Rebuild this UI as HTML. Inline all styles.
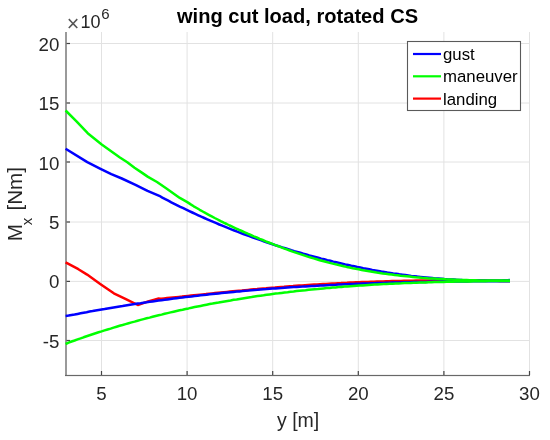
<!DOCTYPE html>
<html><head><meta charset="utf-8"><style>
html,body{margin:0;padding:0;background:#fff;}
svg{display:block;}
text{font-family:"Liberation Sans",Arial,sans-serif;fill:#262626;}
.tk{font-size:18.7px;}
.lb{font-size:20.5px;}
.tt{font-size:20.1px;font-weight:bold;fill:#000;}
.lg{font-size:16.8px;fill:#000;}
</style></head><body>
<svg width="550" height="440" viewBox="0 0 550 440">
<rect x="0" y="0" width="550" height="440" fill="#fff"/>
<line x1="101.5" y1="32" x2="101.5" y2="375" stroke="#e2e2e2" stroke-width="1"/>
<line x1="187.1" y1="32" x2="187.1" y2="375" stroke="#e2e2e2" stroke-width="1"/>
<line x1="272.7" y1="32" x2="272.7" y2="375" stroke="#e2e2e2" stroke-width="1"/>
<line x1="358.3" y1="32" x2="358.3" y2="375" stroke="#e2e2e2" stroke-width="1"/>
<line x1="443.9" y1="32" x2="443.9" y2="375" stroke="#e2e2e2" stroke-width="1"/>
<line x1="529.5" y1="32" x2="529.5" y2="375" stroke="#e2e2e2" stroke-width="1"/>
<line x1="66" y1="43.5" x2="529.5" y2="43.5" stroke="#e2e2e2" stroke-width="1"/>
<line x1="66" y1="103.0" x2="529.5" y2="103.0" stroke="#e2e2e2" stroke-width="1"/>
<line x1="66" y1="162.0" x2="529.5" y2="162.0" stroke="#e2e2e2" stroke-width="1"/>
<line x1="66" y1="222.0" x2="529.5" y2="222.0" stroke="#e2e2e2" stroke-width="1"/>
<line x1="66" y1="281.4" x2="529.5" y2="281.4" stroke="#e2e2e2" stroke-width="1"/>
<line x1="66" y1="340.5" x2="529.5" y2="340.5" stroke="#e2e2e2" stroke-width="1"/>
<rect x="65" y="32" width="2" height="344" fill="#9a9a9a"/>
<rect x="65" y="375" width="465" height="1" fill="#686868"/>
<rect x="65" y="374.6" width="465" height="1.8" fill="#686868" opacity="0.25"/>
<line x1="66.5" y1="43.5" x2="70" y2="43.5" stroke="#444" stroke-width="1.2"/>
<line x1="66.5" y1="103.0" x2="70" y2="103.0" stroke="#444" stroke-width="1.2"/>
<line x1="66.5" y1="162.0" x2="70" y2="162.0" stroke="#444" stroke-width="1.2"/>
<line x1="66.5" y1="222.0" x2="70" y2="222.0" stroke="#444" stroke-width="1.2"/>
<line x1="66.5" y1="281.4" x2="70" y2="281.4" stroke="#444" stroke-width="1.2"/>
<line x1="66.5" y1="340.5" x2="70" y2="340.5" stroke="#444" stroke-width="1.2"/>
<line x1="101.5" y1="371" x2="101.5" y2="375" stroke="#444" stroke-width="1.2"/>
<line x1="187.1" y1="371" x2="187.1" y2="375" stroke="#444" stroke-width="1.2"/>
<line x1="272.7" y1="371" x2="272.7" y2="375" stroke="#444" stroke-width="1.2"/>
<line x1="358.3" y1="371" x2="358.3" y2="375" stroke="#444" stroke-width="1.2"/>
<line x1="443.9" y1="371" x2="443.9" y2="375" stroke="#444" stroke-width="1.2"/>
<line x1="529.5" y1="371" x2="529.5" y2="375" stroke="#444" stroke-width="1.2"/>
<polyline points="65.6,262.3 78.4,269.2 87.1,274.6 100.2,283.9 113.8,293.3 126.4,299.3 137.8,305.0 148.2,301.4 158.0,298.6 161.0,298.8 164.0,298.4 167.0,298.1 170.0,297.8 173.0,297.5 176.0,297.2 179.0,296.9 182.0,296.6 185.0,296.2 188.0,295.9 191.0,295.6 194.0,295.3 197.0,295.0 200.0,294.7 203.0,294.4 206.0,294.1 209.0,293.7 212.0,293.4 215.0,293.1 218.0,292.8 221.0,292.5 224.0,292.2 227.0,291.9 230.0,291.6 233.0,291.3 236.0,291.0 239.0,290.7 242.0,290.5 245.0,290.2 248.0,289.9 251.0,289.6 254.0,289.3 257.0,289.1 260.0,288.8 263.0,288.5 266.0,288.3 269.0,288.0 272.0,287.7 275.0,287.5 278.0,287.2 281.0,287.0 284.0,286.8 287.0,286.5 290.0,286.3 293.0,286.1 296.0,285.8 299.0,285.6 302.0,285.4 305.0,285.2 308.0,285.0 311.0,284.8 314.0,284.6 317.0,284.4 320.0,284.2 323.0,284.0 326.0,283.9 329.0,283.7 332.0,283.5 335.0,283.4 338.0,283.2 341.0,283.1 344.0,282.9 347.0,282.8 350.0,282.6 353.0,282.5 356.0,282.3 359.0,282.2 362.0,282.1 365.0,282.0 368.0,281.9 371.0,281.8 374.0,281.7 377.0,281.5 380.0,281.5 383.0,281.4 386.0,281.3 389.0,281.2 392.0,281.1 395.0,281.0 398.0,281.0 401.0,280.9 404.0,280.8 407.0,280.8 410.0,280.7 413.0,280.7 416.0,280.6 419.0,280.6 422.0,280.5 425.0,280.5 428.0,280.5 431.0,280.4 434.0,280.4 437.0,280.4 440.0,280.4 443.0,280.4 446.0,280.4 449.0,280.4 452.0,280.4 455.0,280.4 458.0,280.4 461.0,280.4 464.0,280.4 467.0,280.4 470.0,280.4 473.0,280.5 476.0,280.5 479.0,280.5 482.0,280.6 485.0,280.6 488.0,280.7 491.0,280.7 494.0,280.8 497.0,280.8 500.0,280.9 503.0,280.9 506.0,281.0 509.0,281.1 510.0,281.1" fill="none" stroke="#ff0000" stroke-width="2.5" stroke-linejoin="round"/>
<polyline points="65.6,148.7 87.3,162.1 100.0,168.6 111.3,174.2 121.8,178.5 135.5,184.8 147.5,190.8 159.3,195.8 162.3,197.6 165.3,199.2 168.3,200.7 171.3,202.3 174.3,203.8 177.3,205.3 180.3,206.8 183.3,208.2 186.3,209.7 189.3,211.1 192.3,212.5 195.3,213.9 198.3,215.3 201.3,216.7 204.3,218.0 207.3,219.3 210.3,220.6 213.3,221.9 216.3,223.2 219.3,224.5 222.3,225.7 225.3,226.9 228.3,228.1 231.3,229.3 234.3,230.5 237.3,231.7 240.3,232.8 243.3,234.0 246.3,235.1 249.3,236.2 252.3,237.3 255.3,238.3 258.3,239.4 261.3,240.4 264.3,241.5 267.3,242.5 270.3,243.5 273.3,244.5 276.3,245.5 279.3,246.4 282.3,247.4 285.3,248.3 288.3,249.2 291.3,250.2 294.3,251.1 297.3,251.9 300.3,252.8 303.3,253.7 306.3,254.5 309.3,255.4 312.3,256.2 315.3,257.0 318.3,257.8 321.3,258.6 324.3,259.3 327.3,260.1 330.3,260.8 333.3,261.6 336.3,262.3 339.3,263.0 342.3,263.7 345.3,264.4 348.3,265.0 351.3,265.7 354.3,266.3 357.3,267.0 360.3,267.6 363.3,268.2 366.3,268.7 369.3,269.3 372.3,269.9 375.3,270.4 378.3,270.9 381.3,271.5 384.3,272.0 387.3,272.5 390.3,272.9 393.3,273.4 396.3,273.8 399.3,274.3 402.3,274.7 405.3,275.1 408.3,275.5 411.3,275.9 414.3,276.2 417.3,276.6 420.3,276.9 423.3,277.2 426.3,277.5 429.3,277.8 432.3,278.1 435.3,278.4 438.3,278.6 441.3,278.8 444.3,279.1 447.3,279.3 450.3,279.4 453.3,279.6 456.3,279.8 459.3,279.9 462.3,280.1 465.3,280.2 468.3,280.3 471.3,280.4 474.3,280.4 477.3,280.5 480.3,280.5 483.3,280.6 486.3,280.6 489.3,280.6 492.3,280.5 495.3,280.5 498.3,280.5 501.3,280.4 504.3,280.3 507.3,280.2 510.0,280.1" fill="none" stroke="#0000ff" stroke-width="2.5" stroke-linejoin="round"/>
<polyline points="65.6,315.9 68.6,315.6 71.6,315.0 74.6,314.5 77.6,313.9 80.6,313.3 83.6,312.7 86.6,312.2 89.6,311.6 92.6,311.1 95.6,310.5 98.6,310.0 101.6,309.5 104.6,309.0 107.6,308.4 110.6,307.9 113.6,307.4 116.6,306.9 119.6,306.4 122.6,306.0 125.6,305.5 128.6,305.0 131.6,304.5 134.6,304.1 137.6,303.6 140.6,303.2 143.6,302.7 146.6,302.3 149.6,301.8 152.6,301.4 155.6,301.0 158.6,300.6 161.6,300.2 164.6,299.8 167.6,299.4 170.6,299.0 173.6,298.6 176.6,298.2 179.6,297.8 182.6,297.5 185.6,297.1 188.6,296.7 191.6,296.4 194.6,296.0 197.6,295.7 200.6,295.3 203.6,295.0 206.6,294.7 209.6,294.3 212.6,294.0 215.6,293.7 218.6,293.4 221.6,293.1 224.6,292.8 227.6,292.5 230.6,292.2 233.6,291.9 236.6,291.6 239.6,291.4 242.6,291.1 245.6,290.8 248.6,290.6 251.6,290.3 254.6,290.0 257.6,289.8 260.6,289.5 263.6,289.3 266.6,289.1 269.6,288.8 272.6,288.6 275.6,288.4 278.6,288.2 281.6,288.0 284.6,287.7 287.6,287.5 290.6,287.3 293.6,287.1 296.6,286.9 299.6,286.7 302.6,286.6 305.6,286.4 308.6,286.2 311.6,286.0 314.6,285.9 317.6,285.7 320.6,285.5 323.6,285.4 326.6,285.2 329.6,285.1 332.6,284.9 335.6,284.8 338.6,284.6 341.6,284.5 344.6,284.3 347.6,284.2 350.6,284.1 353.6,284.0 356.6,283.8 359.6,283.7 362.6,283.6 365.6,283.5 368.6,283.4 371.6,283.3 374.6,283.2 377.6,283.1 380.6,283.0 383.6,282.9 386.6,282.8 389.6,282.7 392.6,282.6 395.6,282.5 398.6,282.5 401.6,282.4 404.6,282.3 407.6,282.2 410.6,282.2 413.6,282.1 416.6,282.0 419.6,282.0 422.6,281.9 425.6,281.9 428.6,281.8 431.6,281.8 434.6,281.7 437.6,281.7 440.6,281.6 443.6,281.6 446.6,281.6 449.6,281.5 452.6,281.5 455.6,281.5 458.6,281.4 461.6,281.4 464.6,281.4 467.6,281.4 470.6,281.3 473.6,281.3 476.6,281.3 479.6,281.3 482.6,281.3 485.6,281.3 488.6,281.2 491.6,281.2 494.6,281.2 497.6,281.2 500.6,281.2 503.6,281.2 506.6,281.2 509.6,281.2 510.0,281.2" fill="none" stroke="#0000ff" stroke-width="2.5" stroke-linejoin="round"/>
<polyline points="65.6,110.5 76.5,121.3 87.7,133.2 101.7,144.4 119.9,157.5 127.3,162.3 134.5,167.7 141.8,172.6 148.0,176.9 157.0,182.0 166.1,188.2 179.8,197.9 187.7,202.4 190.7,204.4 193.7,206.3 196.7,208.0 199.7,209.8 202.7,211.5 205.7,213.2 208.7,214.8 211.7,216.4 214.7,218.0 217.7,219.5 220.7,221.1 223.7,222.6 226.7,224.0 229.7,225.5 232.7,226.9 235.7,228.3 238.7,229.7 241.7,231.0 244.7,232.3 247.7,233.7 250.7,235.0 253.7,236.3 256.7,237.5 259.7,238.8 262.7,240.0 265.7,241.3 268.7,242.5 271.7,243.7 274.7,244.9 277.7,246.0 280.7,247.2 283.7,248.3 286.7,249.4 289.7,250.5 292.7,251.6 295.7,252.6 298.7,253.6 301.7,254.6 304.7,255.6 307.7,256.6 310.7,257.5 313.7,258.4 316.7,259.3 319.7,260.2 322.7,261.0 325.7,261.8 328.7,262.6 331.7,263.4 334.7,264.1 337.7,264.8 340.7,265.5 343.7,266.2 346.7,266.9 349.7,267.5 352.7,268.2 355.7,268.8 358.7,269.3 361.7,269.9 364.7,270.5 367.7,271.0 370.7,271.5 373.7,272.0 376.7,272.5 379.7,272.9 382.7,273.4 385.7,273.8 388.7,274.2 391.7,274.6 394.7,275.0 397.7,275.3 400.7,275.7 403.7,276.0 406.7,276.3 409.7,276.6 412.7,276.9 415.7,277.2 418.7,277.4 421.7,277.7 424.7,277.9 427.7,278.2 430.7,278.4 433.7,278.6 436.7,278.8 439.7,278.9 442.7,279.1 445.7,279.3 448.7,279.4 451.7,279.5 454.7,279.7 457.7,279.8 460.7,279.9 463.7,280.0 466.7,280.1 469.7,280.2 472.7,280.2 475.7,280.3 478.7,280.4 481.7,280.4 484.7,280.5 487.7,280.5 490.7,280.5 493.7,280.6 496.7,280.6 499.7,280.6 502.7,280.6 505.7,280.6 508.7,280.6 510.0,280.6" fill="none" stroke="#00ff00" stroke-width="2.5" stroke-linejoin="round"/>
<polyline points="65.6,344.0 68.6,342.6 71.6,341.5 74.6,340.5 77.6,339.4 80.6,338.4 83.6,337.3 86.6,336.3 89.6,335.3 92.6,334.3 95.6,333.3 98.6,332.3 101.6,331.4 104.6,330.4 107.6,329.5 110.6,328.6 113.6,327.6 116.6,326.7 119.6,325.8 122.6,325.0 125.6,324.1 128.6,323.2 131.6,322.4 134.6,321.6 137.6,320.7 140.6,319.9 143.6,319.1 146.6,318.3 149.6,317.6 152.6,316.8 155.6,316.0 158.6,315.3 161.6,314.6 164.6,313.8 167.6,313.1 170.6,312.4 173.6,311.7 176.6,311.0 179.6,310.3 182.6,309.7 185.6,309.0 188.6,308.4 191.6,307.7 194.6,307.1 197.6,306.5 200.6,305.9 203.6,305.3 206.6,304.7 209.6,304.1 212.6,303.6 215.6,303.0 218.6,302.5 221.6,301.9 224.6,301.4 227.6,300.9 230.6,300.4 233.6,299.8 236.6,299.4 239.6,298.9 242.6,298.4 245.6,297.9 248.6,297.4 251.6,297.0 254.6,296.5 257.6,296.1 260.6,295.7 263.6,295.3 266.6,294.8 269.6,294.4 272.6,294.0 275.6,293.6 278.6,293.3 281.6,292.9 284.6,292.5 287.6,292.2 290.6,291.8 293.6,291.5 296.6,291.1 299.6,290.8 302.6,290.5 305.6,290.2 308.6,289.8 311.6,289.5 314.6,289.2 317.6,289.0 320.6,288.7 323.6,288.4 326.6,288.1 329.6,287.9 332.6,287.6 335.6,287.4 338.6,287.1 341.6,286.9 344.6,286.6 347.6,286.4 350.6,286.2 353.6,286.0 356.6,285.8 359.6,285.6 362.6,285.4 365.6,285.2 368.6,285.0 371.6,284.8 374.6,284.6 377.6,284.5 380.6,284.3 383.6,284.1 386.6,284.0 389.6,283.8 392.6,283.7 395.6,283.5 398.6,283.4 401.6,283.3 404.6,283.1 407.6,283.0 410.6,282.9 413.6,282.8 416.6,282.7 419.6,282.6 422.6,282.5 425.6,282.4 428.6,282.3 431.6,282.2 434.6,282.1 437.6,282.0 440.6,282.0 443.6,281.9 446.6,281.8 449.6,281.7 452.6,281.7 455.6,281.6 458.6,281.6 461.6,281.5 464.6,281.5 467.6,281.4 470.6,281.4 473.6,281.3 476.6,281.3 479.6,281.2 482.6,281.2 485.6,281.2 488.6,281.1 491.6,281.1 494.6,281.1 497.6,281.1 500.6,281.1 503.6,281.0 506.6,281.0 509.6,281.0 510.0,281.0" fill="none" stroke="#00ff00" stroke-width="2.5" stroke-linejoin="round"/>
<text x="59.3" y="51.10" text-anchor="end" class="tk">20</text>
<text x="59.3" y="110.30" text-anchor="end" class="tk">15</text>
<text x="59.3" y="169.70" text-anchor="end" class="tk">10</text>
<text x="59.3" y="229.05" text-anchor="end" class="tk">5</text>
<text x="59.3" y="288.05" text-anchor="end" class="tk">0</text>
<text x="59.3" y="347.75" text-anchor="end" class="tk">-5</text>
<text x="101.5" y="400.2" text-anchor="middle" class="tk">5</text>
<text x="187.1" y="400.2" text-anchor="middle" class="tk">10</text>
<text x="272.7" y="400.2" text-anchor="middle" class="tk">15</text>
<text x="358.3" y="400.2" text-anchor="middle" class="tk">20</text>
<text x="443.9" y="400.2" text-anchor="middle" class="tk">25</text>
<text x="529.5" y="400.2" text-anchor="middle" class="tk">30</text>
<text x="66.8" y="31.1" class="tk" style="font-size:21.5px;fill:#555">&#215;</text>
<text x="80.6" y="27.6" class="tk" style="font-size:18px">10</text>
<text x="101.3" y="19.1" class="tk" style="font-size:15px">6</text>
<text x="298.1" y="427" text-anchor="middle" class="lb" style="font-size:19.5px">y [m]</text>
<text transform="translate(21.5,204.2) rotate(-90)" text-anchor="middle" class="lb">M<tspan dy="10" dx="-1.2" font-size="15">x</tspan><tspan dy="-10" dx="1.7"> [Nm]</tspan></text>
<text x="297.5" y="22.6" text-anchor="middle" class="tt">wing cut load, rotated CS</text>
<rect x="407.5" y="41.5" width="113" height="69" fill="#fff" stroke="#5a5a5a" stroke-width="1.1"/>
<line x1="413" y1="54" x2="441" y2="54" stroke="#0000ff" stroke-width="2.2"/>
<text x="443" y="60.1" class="lg">gust</text>
<line x1="413" y1="76.3" x2="441" y2="76.3" stroke="#00ff00" stroke-width="2.2"/>
<text x="443" y="82.4" class="lg">maneuver</text>
<line x1="413" y1="98.6" x2="441" y2="98.6" stroke="#ff0000" stroke-width="2.2"/>
<text x="443" y="104.7" class="lg">landing</text>
</svg>
</body></html>
